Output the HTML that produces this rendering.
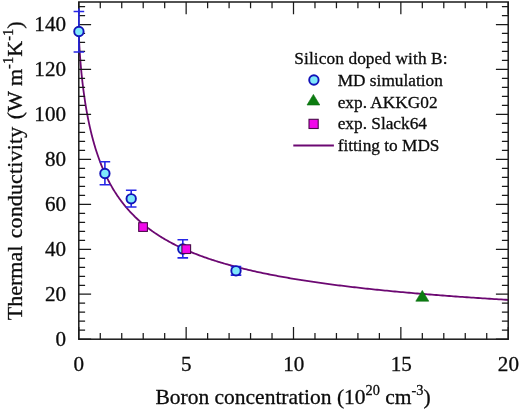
<!DOCTYPE html>
<html><head><meta charset="utf-8"><title>Thermal conductivity</title>
<style>
html,body{margin:0;padding:0;background:#fff;}
svg{display:block;}
text{font-family:"Liberation Serif",serif;fill:#0c0c0c;stroke:#0c0c0c;stroke-width:0.3px;}
</style></head><body>
<svg width="520" height="411" viewBox="0 0 520 411">
<rect width="520" height="411" fill="#fff"/>
<path d="M78.80,31.36 L78.80,31.47 L78.80,31.72 L78.81,32.05 L78.82,32.47 L78.83,32.96 L78.84,33.51 L78.86,34.12 L78.88,34.79 L78.90,35.52 L78.93,36.29 L78.96,37.11 L78.99,37.97 L79.03,38.87 L79.07,39.82 L79.11,40.80 L79.16,41.82 L79.21,42.88 L79.27,43.96 L79.33,45.08 L79.39,46.23 L79.46,47.40 L79.53,48.60 L79.60,49.83 L79.68,51.08 L79.76,52.35 L79.85,53.64 L79.94,54.96 L80.04,56.29 L80.14,57.64 L80.24,59.01 L80.35,60.40 L80.46,61.80 L80.57,63.21 L80.69,64.64 L80.82,66.07 L80.95,67.52 L81.08,68.98 L81.22,70.45 L81.36,71.93 L81.51,73.42 L81.66,74.91 L81.82,76.41 L81.98,77.91 L82.14,79.42 L82.31,80.94 L82.48,82.45 L82.66,83.98 L82.85,85.50 L83.03,87.03 L83.23,88.55 L83.42,90.08 L83.63,91.61 L83.83,93.14 L84.04,94.67 L84.26,96.19 L84.48,97.72 L84.71,99.24 L84.94,100.76 L85.17,102.28 L85.41,103.80 L85.66,105.31 L85.91,106.82 L86.16,108.32 L86.42,109.82 L86.68,111.32 L86.95,112.81 L87.23,114.30 L87.51,115.78 L87.79,117.25 L88.08,118.72 L88.37,120.18 L88.67,121.64 L88.98,123.09 L89.29,124.53 L89.60,125.97 L89.92,127.40 L90.24,128.82 L90.57,130.23 L90.91,131.64 L91.25,133.04 L91.59,134.43 L91.94,135.82 L92.30,137.19 L92.66,138.56 L93.02,139.92 L93.40,141.27 L93.77,142.61 L94.15,143.95 L94.54,145.27 L94.93,146.59 L95.33,147.90 L95.73,149.20 L96.14,150.49 L96.55,151.77 L96.97,153.05 L97.39,154.31 L97.82,155.57 L98.25,156.82 L98.69,158.06 L99.14,159.29 L99.59,160.51 L100.04,161.72 L100.51,162.92 L100.97,164.12 L101.44,165.30 L101.92,166.48 L102.40,167.64 L102.89,168.80 L103.38,169.95 L103.88,171.09 L104.39,172.23 L104.90,173.35 L105.41,174.46 L105.93,175.57 L106.46,176.67 L106.99,177.76 L107.53,178.84 L108.07,179.91 L108.62,180.97 L109.18,182.02 L109.74,183.07 L110.30,184.11 L110.87,185.14 L111.45,186.16 L112.03,187.17 L112.62,188.17 L113.21,189.17 L113.81,190.16 L114.41,191.14 L115.02,192.11 L115.64,193.07 L116.26,194.03 L116.89,194.97 L117.52,195.91 L118.16,196.85 L118.81,197.77 L119.46,198.69 L120.11,199.60 L120.77,200.50 L121.44,201.39 L122.11,202.28 L122.79,203.16 L123.48,204.03 L124.17,204.89 L124.86,205.75 L125.56,206.60 L126.27,207.44 L126.98,208.28 L127.70,209.11 L128.43,209.93 L129.16,210.74 L129.90,211.55 L130.64,212.35 L131.39,213.15 L132.14,213.93 L132.90,214.71 L133.67,215.49 L134.44,216.26 L135.22,217.02 L136.00,217.77 L136.79,218.52 L137.58,219.26 L138.39,220.00 L139.19,220.73 L140.01,221.45 L140.83,222.17 L141.65,222.88 L142.48,223.59 L143.32,224.29 L144.16,224.98 L145.01,225.67 L145.86,226.35 L146.73,227.03 L147.59,227.70 L148.46,228.37 L149.34,229.03 L150.23,229.68 L151.12,230.33 L152.02,230.97 L152.92,231.61 L153.83,232.25 L154.74,232.87 L155.66,233.50 L156.59,234.11 L157.52,234.73 L158.46,235.33 L159.41,235.94 L160.36,236.53 L161.32,237.13 L162.28,237.71 L163.25,238.30 L164.23,238.87 L165.21,239.45 L166.20,240.02 L167.19,240.58 L168.19,241.14 L169.20,241.69 L170.21,242.24 L171.23,242.79 L172.25,243.33 L173.28,243.87 L174.32,244.40 L175.37,244.93 L176.41,245.45 L177.47,245.97 L178.53,246.49 L179.60,247.00 L180.68,247.51 L181.76,248.01 L182.84,248.51 L183.94,249.01 L185.04,249.50 L186.14,249.99 L187.25,250.47 L188.37,250.95 L189.50,251.43 L190.63,251.90 L191.76,252.37 L192.91,252.83 L194.06,253.29 L195.21,253.75 L196.37,254.21 L197.54,254.66 L198.72,255.10 L199.90,255.55 L201.08,255.99 L202.28,256.43 L203.48,256.86 L204.68,257.29 L205.90,257.72 L207.11,258.14 L208.34,258.56 L209.57,258.98 L210.81,259.39 L212.05,259.80 L213.30,260.21 L214.56,260.61 L215.82,261.01 L217.09,261.41 L218.37,261.81 L219.65,262.20 L220.94,262.59 L222.24,262.98 L223.54,263.36 L224.85,263.74 L226.16,264.12 L227.48,264.49 L228.81,264.86 L230.15,265.23 L231.49,265.60 L232.83,265.96 L234.19,266.33 L235.55,266.68 L236.91,267.04 L238.28,267.39 L239.66,267.74 L241.05,268.09 L242.44,268.44 L243.84,268.78 L245.25,269.12 L246.66,269.46 L248.08,269.79 L249.50,270.13 L250.93,270.46 L252.37,270.79 L253.81,271.11 L255.26,271.44 L256.72,271.76 L258.18,272.08 L259.65,272.39 L261.13,272.71 L262.62,273.02 L264.11,273.33 L265.60,273.64 L267.11,273.94 L268.61,274.25 L270.13,274.55 L271.65,274.85 L273.18,275.14 L274.72,275.44 L276.26,275.73 L277.81,276.02 L279.37,276.31 L280.93,276.60 L282.50,276.88 L284.07,277.17 L285.66,277.45 L287.25,277.73 L288.84,278.00 L290.44,278.28 L292.05,278.55 L293.67,278.82 L295.29,279.09 L296.92,279.36 L298.55,279.63 L300.20,279.89 L301.85,280.15 L303.50,280.41 L305.16,280.67 L306.83,280.93 L308.51,281.19 L310.19,281.44 L311.88,281.69 L313.58,281.94 L315.28,282.19 L316.99,282.44 L318.70,282.68 L320.42,282.93 L322.15,283.17 L323.89,283.41 L325.63,283.65 L327.38,283.88 L329.14,284.12 L330.90,284.35 L332.67,284.59 L334.45,284.82 L336.23,285.05 L338.02,285.28 L339.82,285.50 L341.62,285.73 L343.43,285.95 L345.25,286.17 L347.07,286.39 L348.90,286.61 L350.74,286.83 L352.58,287.05 L354.44,287.26 L356.29,287.48 L358.16,287.69 L360.03,287.90 L361.91,288.11 L363.79,288.32 L365.68,288.53 L367.58,288.73 L369.49,288.94 L371.40,289.14 L373.32,289.34 L375.25,289.54 L377.18,289.74 L379.12,289.94 L381.07,290.14 L383.02,290.33 L384.98,290.53 L386.95,290.72 L388.92,290.91 L390.90,291.10 L392.89,291.29 L394.89,291.48 L396.89,291.67 L398.90,291.86 L400.91,292.04 L402.93,292.22 L404.96,292.41 L407.00,292.59 L409.04,292.77 L411.09,292.95 L413.15,293.13 L415.21,293.31 L417.28,293.48 L419.36,293.66 L421.45,293.83 L423.54,294.00 L425.64,294.18 L427.74,294.35 L429.85,294.52 L431.97,294.69 L434.10,294.86 L436.23,295.02 L438.37,295.19 L440.52,295.35 L442.68,295.52 L444.84,295.68 L447.00,295.84 L449.18,296.01 L451.36,296.17 L453.55,296.33 L455.75,296.48 L457.95,296.64 L460.16,296.80 L462.38,296.95 L464.60,297.11 L466.83,297.26 L469.07,297.42 L471.32,297.57 L473.57,297.72 L475.83,297.87 L478.10,298.02 L480.37,298.17 L482.65,298.32 L484.94,298.46 L487.23,298.61 L489.53,298.76 L491.84,298.90 L494.16,299.04 L496.48,299.19 L498.81,299.33 L501.15,299.47 L503.49,299.61 L505.84,299.75 L508.20,299.89" fill="none" stroke="#6c0872" stroke-width="1.8"/>
<rect x="78.8" y="2" width="429.40" height="337.20" fill="none" stroke="#1a1a1a" stroke-width="1.5"/>
<path d="M78.80,339.20 v-12.30 M78.80,2.00 v12.30 M100.27,339.20 v-6.30 M100.27,2.00 v6.30 M121.74,339.20 v-6.30 M121.74,2.00 v6.30 M143.21,339.20 v-6.30 M143.21,2.00 v6.30 M164.68,339.20 v-6.30 M164.68,2.00 v6.30 M186.15,339.20 v-12.30 M186.15,2.00 v12.30 M207.62,339.20 v-6.30 M207.62,2.00 v6.30 M229.09,339.20 v-6.30 M229.09,2.00 v6.30 M250.56,339.20 v-6.30 M250.56,2.00 v6.30 M272.03,339.20 v-6.30 M272.03,2.00 v6.30 M293.50,339.20 v-12.30 M293.50,2.00 v12.30 M314.97,339.20 v-6.30 M314.97,2.00 v6.30 M336.44,339.20 v-6.30 M336.44,2.00 v6.30 M357.91,339.20 v-6.30 M357.91,2.00 v6.30 M379.38,339.20 v-6.30 M379.38,2.00 v6.30 M400.85,339.20 v-12.30 M400.85,2.00 v12.30 M422.32,339.20 v-6.30 M422.32,2.00 v6.30 M443.79,339.20 v-6.30 M443.79,2.00 v6.30 M465.26,339.20 v-6.30 M465.26,2.00 v6.30 M486.73,339.20 v-6.30 M486.73,2.00 v6.30 M508.20,339.20 v-12.30 M508.20,2.00 v12.30 M78.80,339.20 h12.30 M508.20,339.20 h-12.30 M78.80,330.21 h6.30 M508.20,330.21 h-6.30 M78.80,321.22 h6.30 M508.20,321.22 h-6.30 M78.80,312.23 h6.30 M508.20,312.23 h-6.30 M78.80,303.23 h6.30 M508.20,303.23 h-6.30 M78.80,294.24 h12.30 M508.20,294.24 h-12.30 M78.80,285.25 h6.30 M508.20,285.25 h-6.30 M78.80,276.26 h6.30 M508.20,276.26 h-6.30 M78.80,267.27 h6.30 M508.20,267.27 h-6.30 M78.80,258.28 h6.30 M508.20,258.28 h-6.30 M78.80,249.29 h12.30 M508.20,249.29 h-12.30 M78.80,240.29 h6.30 M508.20,240.29 h-6.30 M78.80,231.30 h6.30 M508.20,231.30 h-6.30 M78.80,222.31 h6.30 M508.20,222.31 h-6.30 M78.80,213.32 h6.30 M508.20,213.32 h-6.30 M78.80,204.33 h12.30 M508.20,204.33 h-12.30 M78.80,195.34 h6.30 M508.20,195.34 h-6.30 M78.80,186.35 h6.30 M508.20,186.35 h-6.30 M78.80,177.35 h6.30 M508.20,177.35 h-6.30 M78.80,168.36 h6.30 M508.20,168.36 h-6.30 M78.80,159.37 h12.30 M508.20,159.37 h-12.30 M78.80,150.38 h6.30 M508.20,150.38 h-6.30 M78.80,141.39 h6.30 M508.20,141.39 h-6.30 M78.80,132.40 h6.30 M508.20,132.40 h-6.30 M78.80,123.41 h6.30 M508.20,123.41 h-6.30 M78.80,114.41 h12.30 M508.20,114.41 h-12.30 M78.80,105.42 h6.30 M508.20,105.42 h-6.30 M78.80,96.43 h6.30 M508.20,96.43 h-6.30 M78.80,87.44 h6.30 M508.20,87.44 h-6.30 M78.80,78.45 h6.30 M508.20,78.45 h-6.30 M78.80,69.46 h12.30 M508.20,69.46 h-12.30 M78.80,60.47 h6.30 M508.20,60.47 h-6.30 M78.80,51.47 h6.30 M508.20,51.47 h-6.30 M78.80,42.48 h6.30 M508.20,42.48 h-6.30 M78.80,33.49 h6.30 M508.20,33.49 h-6.30 M78.80,24.50 h12.30 M508.20,24.50 h-12.30 M78.80,15.51 h6.30 M508.20,15.51 h-6.30 M78.80,6.52 h6.30 M508.20,6.52 h-6.30" stroke="#1a1a1a" stroke-width="1.25" fill="none"/>
<path d="M78.9,8.5 V52.0 M73.6,11.5 h10.6 M73.6,52.0 h10.6" stroke="#2626e6" stroke-width="1.6" fill="none"/>
<circle cx="78.9" cy="31.5" r="4.7" fill="#7fe8fb" stroke="#1212b8" stroke-width="1.9"/>
<path d="M104.9,161.8 V184.7 M99.6,161.8 h10.6 M99.6,184.7 h10.6" stroke="#2626e6" stroke-width="1.6" fill="none"/>
<circle cx="104.9" cy="173.5" r="4.7" fill="#7fe8fb" stroke="#1212b8" stroke-width="1.9"/>
<path d="M131.2,190.3 V207.0 M125.9,190.3 h10.6 M125.9,207.0 h10.6" stroke="#2626e6" stroke-width="1.6" fill="none"/>
<circle cx="131.2" cy="198.8" r="4.7" fill="#7fe8fb" stroke="#1212b8" stroke-width="1.9"/>
<path d="M182.8,239.8 V257.9 M177.5,239.8 h10.6 M177.5,257.9 h10.6" stroke="#2626e6" stroke-width="1.6" fill="none"/>
<circle cx="182.8" cy="249.0" r="4.7" fill="#7fe8fb" stroke="#1212b8" stroke-width="1.9"/>
<path d="M236.0,266.5 V275.1 M230.7,266.5 h10.6 M230.7,275.1 h10.6" stroke="#2626e6" stroke-width="1.6" fill="none"/>
<circle cx="236.0" cy="270.8" r="4.7" fill="#7fe8fb" stroke="#1212b8" stroke-width="1.9"/>

<rect x="138.7" y="222.7" width="8.7" height="8.7" fill="#f208ea" stroke="#4a0a4a" stroke-width="1.1"/>
<rect x="181.9" y="244.8" width="8.7" height="8.7" fill="#f208ea" stroke="#4a0a4a" stroke-width="1.1"/>
<path d="M422.3,290.4 L428.8,301.2 H415.8 Z" fill="#0b7d10" stroke="#0b6d10" stroke-width="0.6"/>
<g font-size="21.1" text-anchor="end">
<text x="66" y="31.3">140</text>
<text x="66" y="76.2">120</text>
<text x="66" y="121.1">100</text>
<text x="66" y="166.1">80</text>
<text x="66" y="211">60</text>
<text x="66" y="255.9">40</text>
<text x="66" y="300.9">20</text>
<text x="66" y="345.8">0</text>
</g>
<g font-size="21.1" text-anchor="middle">
<text x="78.7" y="370.8">0</text>
<text x="186.2" y="370.8">5</text>
<text x="293.7" y="370.8">10</text>
<text x="401.2" y="370.8">15</text>
<text x="508.4" y="370.8">20</text>
</g>
<text x="155.4" y="404.4" font-size="21.5">Boron concentration (10<tspan font-size="14.3" dy="-9.5">20</tspan><tspan dy="9.5"> cm</tspan><tspan font-size="14.3" dy="-9.5">-3</tspan><tspan dy="9.5">)</tspan></text>
<g font-size="22">
<text transform="translate(21.5,320.3) rotate(-90)" textLength="74.6">Thermal</text>
<text transform="translate(21.5,238.3) rotate(-90)" textLength="111.5">conductivity</text>
<text transform="translate(21.5,119.2) rotate(-90)">(W m<tspan font-size="14.6" dy="-9">-1</tspan><tspan dy="9">K</tspan><tspan font-size="14.6" dy="-9">-1</tspan><tspan dy="9">)</tspan></text>
</g>
<g font-size="17.3">
<text x="294.3" y="64" textLength="153.2">Silicon doped with B:</text>
<text x="337.7" y="86.2">MD simulation</text>
<text x="337.7" y="107.8">exp. AKKG02</text>
<text x="337.7" y="129.1">exp. Slack64</text>
<text x="337.7" y="151">fitting to MDS</text>
</g>
<circle cx="313.9" cy="80.0" r="4.7" fill="#7fe8fb" stroke="#1212b8" stroke-width="1.9"/>
<path d="M313.4,94.4 L319.8,105.0 H307.0 Z" fill="#0b7d10" stroke="#0b6d10" stroke-width="0.6"/>
<rect x="309.0" y="119.3" width="9.2" height="9.2" fill="#f208ea" stroke="#4a0a4a" stroke-width="1.1"/>
<path d="M293.3,145.6 H333.9" stroke="#6c0872" stroke-width="2"/>
</svg>
</body></html>
